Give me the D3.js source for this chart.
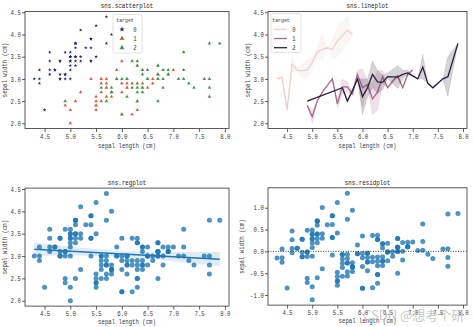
<!DOCTYPE html>
<html>
<head>
<meta charset="utf-8">
<script src="https://cdn.jsdelivr.net/npm/d3@7"></script>
<style>
  body { margin: 0; background: #fff; }
  svg { display: block; }
</style>
</head>
<body>
<svg width="474" height="327"></svg>
<script>
// iris data: sepal length / sepal width per target
var setosaLength = [5.1,4.9,4.7,4.6,5.0,5.4,4.6,5.0,4.4,4.9,5.4,4.8,4.8,4.3,5.8,5.7,5.4,5.1,5.7,5.1,5.4,5.1,4.6,5.1,4.8,5.0,5.0,5.2,5.2,4.7,4.8,5.4,5.2,5.5,4.9,5.0,5.5,4.9,4.4,5.1,5.0,4.5,4.4,5.0,5.1,4.8,5.1,4.6,5.3,5.0];
var setosaWidth = [3.5,3.0,3.2,3.1,3.6,3.9,3.4,3.4,2.9,3.1,3.7,3.4,3.0,3.0,4.0,4.4,3.9,3.5,3.8,3.8,3.4,3.7,3.6,3.3,3.4,3.0,3.4,3.5,3.4,3.2,3.1,3.4,4.1,4.2,3.1,3.2,3.5,3.6,3.0,3.4,3.5,2.3,3.2,3.5,3.8,3.0,3.8,3.2,3.7,3.3];
var versicolorLength = [7.0,6.4,6.9,5.5,6.5,5.7,6.3,4.9,6.6,5.2,5.0,5.9,6.0,6.1,5.6,6.7,5.6,5.8,6.2,5.6,5.9,6.1,6.3,6.1,6.4,6.6,6.8,6.7,6.0,5.7,5.5,5.5,5.8,6.0,5.4,6.0,6.7,6.3,5.6,5.5,5.5,6.1,5.8,5.0,5.6,5.7,5.7,6.2,5.1,5.7];
var versicolorWidth = [3.2,3.2,3.1,2.3,2.8,2.8,3.3,2.4,2.9,2.7,2.0,3.0,2.2,2.9,2.9,3.1,3.0,2.7,2.2,2.5,3.2,2.8,2.5,2.8,2.9,3.0,2.8,3.0,2.9,2.6,2.4,2.4,2.7,2.7,3.0,3.4,3.1,2.3,3.0,2.5,2.6,3.0,2.6,2.3,2.7,3.0,2.9,2.9,2.5,2.8];
var virginicaLength = [6.3,5.8,7.1,6.3,6.5,7.6,4.9,7.3,6.7,7.2,6.5,6.4,6.8,5.7,5.8,6.4,6.5,7.7,7.7,6.0,6.9,5.6,7.7,6.3,6.7,7.2,6.2,6.1,6.4,7.2,7.4,7.9,6.4,6.3,6.1,7.7,6.3,6.4,6.0,6.9,6.7,6.9,5.8,6.8,6.7,6.7,6.3,6.5,6.2,5.9];
var virginicaWidth = [3.3,2.7,3.0,2.9,3.0,3.0,2.5,2.9,2.5,3.6,3.2,2.7,3.0,2.5,2.8,3.2,3.0,3.8,2.6,2.2,3.2,2.8,2.8,2.7,3.3,3.2,2.8,3.0,2.8,3.0,2.8,3.8,2.8,2.8,2.6,3.0,3.4,3.1,3.0,3.1,3.1,3.1,2.7,3.2,3.3,3.0,2.5,3.0,3.4,3.0];

var targets = [0, 1, 2];
var scatterColors = ['#1a2670', '#cc5530', '#2e8a3a'];
var lineColors = ['#edd1cb', '#aa678f', '#2d1e3e'];

// regression line
var fitIntercept = 3.419;
var fitSlope = -0.0619;
var ciX = [4.3, 4.8, 5.3, 5.8, 6.3, 6.8, 7.3, 7.9];
var ciHalf = [0.15, 0.11, 0.08, 0.07, 0.07, 0.09, 0.12, 0.16];

var xTicks = [4.5, 5.0, 5.5, 6.0, 6.5, 7.0, 7.5, 8.0];
var yTicks = [2.0, 2.5, 3.0, 3.5, 4.0, 4.5];
var residTicks = [-1.0, -0.5, 0.0, 0.5, 1.0];

var svg = d3.select('svg');
var font = '"Liberation Mono", "DejaVu Sans Mono", monospace';
var fs = 6.8;
var textColor = '#3a3a3a';

// rows of {x, y, t}
var lengths = [setosaLength, versicolorLength, virginicaLength];
var widths = [setosaWidth, versicolorWidth, virginicaWidth];
var data = [];
targets.forEach(function(t) {
    lengths[t].forEach(function(v, i) {
        data.push({ x: v, y: widths[t][i], t: t });
    });
});

// SimHei style half width glyphs
function halfWidth(sel, size) {
    sel.style('font-family', font).style('font-size', size + 'px')
        .attr('textLength', function() { return this.textContent.length * size * 0.5; })
        .attr('lengthAdjust', 'spacingAndGlyphs');
}

function fmt(d) { return d3.format('.1f')(d).replace('\u2212', '-'); }

// scales for the four panels
var p1 = { x: d3.scaleLinear().domain([4.12, 8.08]).range([25, 229]),
           y: d3.scaleLinear().domain([1.88, 4.52]).range([128.6, 11.4]) };
var p2 = { x: d3.scaleLinear().domain([4.12, 8.08]).range([268, 467]),
           y: d3.scaleLinear().domain([1.88, 4.52]).range([128.6, 11.4]) };
var p3 = { x: d3.scaleLinear().domain([4.12, 8.08]).range([25, 229]),
           y: d3.scaleLinear().domain([1.88, 4.52]).range([306.1, 188.1]) };
var p4 = { x: d3.scaleLinear().domain([4.12, 8.08]).range([268, 467]),
           y: d3.scaleLinear().domain([-1.231, 1.456]).range([305.1, 187.8]) };

function drawFrame(p, yt, title, ylabelX, xlabelGap) {
    var x0 = p.x.range()[0], x1 = p.x.range()[1];
    var yb = p.y.range()[0], ytop = p.y.range()[1];

    var xa = svg.append('g').attr('transform', `translate(0, ${yb})`)
        .call(d3.axisBottom(p.x).tickValues(xTicks).tickFormat(fmt).tickSize(3.5).tickPadding(1.8));
    var ya = svg.append('g').attr('transform', `translate(${x0}, 0)`)
        .call(d3.axisLeft(p.y).tickValues(yt).tickFormat(fmt).tickSize(3).tickPadding(1.2));
    [xa, ya].forEach(function(a) {
        a.select('.domain').remove();
        a.selectAll('line').attr('stroke', '#333').attr('stroke-width', 0.8);
        a.selectAll('text').attr('fill', textColor).call(halfWidth, fs);
    });

    svg.append('rect')
        .attr('x', x0).attr('y', ytop)
        .attr('width', x1 - x0).attr('height', yb - ytop)
        .attr('fill', 'none').attr('stroke', '#333').attr('stroke-width', 0.8);

    svg.append('text')
        .attr('x', (x0 + x1) / 2).attr('y', ytop - 3.3)
        .attr('text-anchor', 'middle').attr('fill', '#222')
        .text(title).call(halfWidth, 7);

    svg.append('text')
        .attr('x', (x0 + x1) / 2).attr('y', yb + xlabelGap)
        .attr('text-anchor', 'middle').attr('fill', textColor)
        .text('sepal length (cm)').call(halfWidth, fs);

    svg.append('text')
        .attr('text-anchor', 'middle').attr('fill', textColor)
        .attr('transform', `translate(${ylabelX}, ${(yb + ytop) / 2}) rotate(-90)`)
        .text('sepal width (cm)').call(halfWidth, fs);
}

// ---- sns.scatterplot ----
function drawScatter() {
    drawFrame(p1, yTicks, 'sns.scatterplot', 7, 19.2);
    var shapes = [d3.symbolStar, d3.symbolTriangle, d3.symbolTriangle];
    var sizes = [4, 6, 6];
    var edges = [0, 0.25, 0.25];
    svg.append('g').selectAll('path').data(data).enter().append('path')
        .attr('transform', d => `translate(${p1.x(d.x)}, ${p1.y(d.y)})`)
        .attr('d', d => d3.symbol().type(shapes[d.t]).size(sizes[d.t])())
        .attr('fill', d => scatterColors[d.t])
        .attr('stroke', '#fff').attr('stroke-width', d => edges[d.t]);

    // legend
    var lg = svg.append('g');
    lg.append('rect').attr('x', 113).attr('y', 14.5).attr('width', 29).attr('height', 38.5)
        .attr('rx', 1.5).attr('fill', '#fff').attr('fill-opacity', 0.8)
        .attr('stroke', '#ccc').attr('stroke-width', 0.6);
    lg.append('text').attr('x', 125).attr('y', 22).attr('text-anchor', 'middle')
        .attr('fill', textColor).text('target').call(halfWidth, 5.8);
    targets.forEach(function(t, i) {
        lg.append('path')
            .attr('transform', `translate(122, ${29.3 + i * 9.2})`)
            .attr('d', d3.symbol().type(shapes[t]).size(sizes[t] + 5)())
            .attr('fill', scatterColors[t]).attr('stroke', '#fff').attr('stroke-width', edges[t]);
        lg.append('text').attr('x', 135).attr('y', 31.6 + i * 9.2).attr('text-anchor', 'middle')
            .attr('fill', textColor).text(t).call(halfWidth, fs);
    });
}

// ---- sns.lineplot ----
function lineStats(rows) {
    var groups = d3.groups(rows, d => d.x).sort((a, b) => a[0] - b[0]);
    return groups.map(function(g) {
        var vals = g[1].map(d => d.y);
        var m = d3.mean(vals);
        var lo = m, hi = m;
        if (vals.length == 2) {
            lo = d3.min(vals); hi = d3.max(vals);
        } else if (vals.length > 2) {
            var se = 1.96 * Math.sqrt(d3.mean(vals, v => (v - m) * (v - m)) / vals.length);
            lo = Math.max(d3.min(vals), m - se);
            hi = Math.min(d3.max(vals), m + se);
        }
        return { x: g[0], y: m, lo: lo, hi: hi };
    });
}

function drawLines() {
    drawFrame(p2, yTicks, 'sns.lineplot', 249.5, 19.2);
    var g = svg.append('g');
    targets.forEach(function(t) {
        var stats = lineStats(data.filter(d => d.t == t));
        g.append('path').datum(stats)
            .attr('d', d3.line().x(d => p2.x(d.x)).y(d => p2.y(d.y)))
            .attr('fill', 'none').attr('stroke', lineColors[t]).attr('stroke-width', 1.3);
        g.append('path').datum(stats)
            .attr('d', d3.area().x(d => p2.x(d.x)).y0(d => p2.y(d.lo)).y1(d => p2.y(d.hi)))
            .attr('fill', lineColors[t]).attr('fill-opacity', 0.2)
            .attr('stroke', lineColors[t]).attr('stroke-opacity', 0.2).attr('stroke-width', 0.5);
    });

    var lg = svg.append('g');
    lg.append('rect').attr('x', 271).attr('y', 13.5).attr('width', 30).attr('height', 39)
        .attr('rx', 1.5).attr('fill', '#fff').attr('fill-opacity', 0.8)
        .attr('stroke', '#ccc').attr('stroke-width', 0.6);
    lg.append('text').attr('x', 281).attr('y', 21.5).attr('text-anchor', 'middle')
        .attr('fill', textColor).text('target').call(halfWidth, 5.8);
    targets.forEach(function(t, i) {
        var yy = 29.3 + i * 9.2;
        lg.append('line').attr('x1', 274).attr('x2', 287).attr('y1', yy).attr('y2', yy)
            .attr('stroke', lineColors[t]).attr('stroke-width', 1.3);
        lg.append('text').attr('x', 294).attr('y', yy + 2.3).attr('text-anchor', 'middle')
            .attr('fill', textColor).text(t).call(halfWidth, fs);
    });
}

// ---- sns.regplot ----
function drawReg() {
    drawFrame(p3, yTicks, 'sns.regplot', 7, 17.5);
    var g = svg.append('g');
    g.selectAll('circle').data(data).enter().append('circle')
        .attr('cx', d => p3.x(d.x)).attr('cy', d => p3.y(d.y)).attr('r', 2.5)
        .attr('fill', '#1f77b4').attr('fill-opacity', 0.8);

    g.append('path').datum(ciX)
        .attr('d', d3.area()
            .x(d => p3.x(d))
            .y0((d, i) => p3.y(fitIntercept + fitSlope * d - ciHalf[i]))
            .y1((d, i) => p3.y(fitIntercept + fitSlope * d + ciHalf[i]))
            .curve(d3.curveBasis))
        .attr('fill', '#1f77b4').attr('fill-opacity', 0.15);

    var ends = d3.extent(data, d => d.x);
    g.append('line')
        .attr('x1', p3.x(ends[0])).attr('y1', p3.y(fitIntercept + fitSlope * ends[0]))
        .attr('x2', p3.x(ends[1])).attr('y2', p3.y(fitIntercept + fitSlope * ends[1]))
        .attr('stroke', '#1f77b4').attr('stroke-width', 1.5);
}

// ---- sns.residplot ----
function drawResid() {
    drawFrame(p4, residTicks, 'sns.residplot', 243.5, 17.5);
    var g = svg.append('g');
    g.selectAll('circle').data(data).enter().append('circle')
        .attr('cx', d => p4.x(d.x))
        .attr('cy', d => p4.y(d.y - (fitIntercept + fitSlope * d.x)))
        .attr('r', 2.5)
        .attr('fill', '#1f77b4').attr('fill-opacity', 0.8);
    g.append('line')
        .attr('x1', p4.x.range()[0]).attr('x2', p4.x.range()[1])
        .attr('y1', p4.y(0)).attr('y2', p4.y(0))
        .attr('stroke', '#333').attr('stroke-width', 0.9).attr('stroke-dasharray', '1,1.5');
}

drawScatter();
drawLines();
drawReg();
drawResid();

// watermark
svg.append('text')
    .attr('x', 363).attr('y', 320)
    .style('font-family', '"Noto Sans CJK SC", sans-serif').style('font-size', '13px')
    .attr('fill', '#bdbdbd').attr('fill-opacity', 0.85)
    .text('CSDN @想考个研');
</script>
</body>
</html>
